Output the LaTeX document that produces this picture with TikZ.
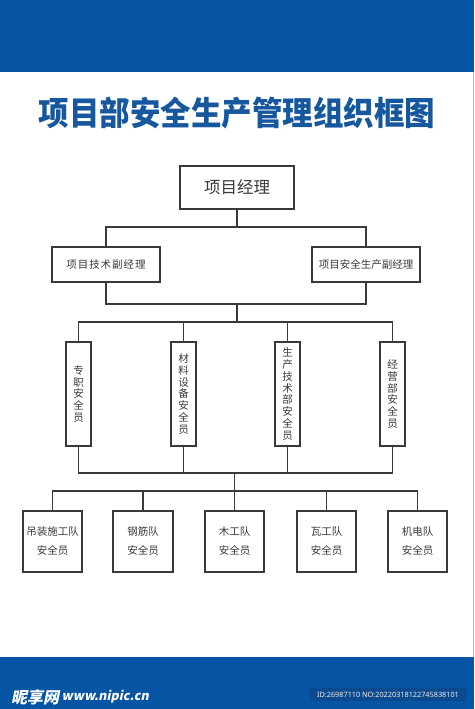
\documentclass[tikz,border=0pt]{standalone}
\usepackage{fontspec}
\newfontfamily\cjk{Noto Sans CJK SC}
\newfontfamily\wm[FakeSlant=0.2]{Noto Sans CJK SC}
\newfontfamily\idfont{Noto Sans}
\definecolor{band}{HTML}{0654A4}
\definecolor{idband}{HTML}{0B4A8E}
\definecolor{titleblue}{HTML}{16579E}
\definecolor{ln}{HTML}{3A3A3A}
\begin{document}
\begin{tikzpicture}[x=1pt,y=-1pt,
  box/.style={draw=ln, line width=1.1pt, inner sep=0pt, text=ln, align=center},
  smalltxt/.style={font=\cjk\fontsize{10.5}{19}\selectfont},
  vtxt/.style={font=\cjk\fontsize{10.5}{11.8}\selectfont},
  conn/.style={draw=ln, line width=1.1pt}]
\useasboundingbox (0,0) rectangle (474,709);
\fill[white] (0,0) rectangle (474,709);
\fill[band] (0,0) rectangle (474,72);
\fill[band] (0,657) rectangle (474,709);
\draw[gray!55, line width=1pt] (473,72) -- (473,657);
% title
\node[font=\cjk\bfseries\fontsize{30.5}{34}\selectfont, text=titleblue, inner sep=0pt] (title) at (237,113) {\scalebox{1}[1.08]{项目部安全生产管理组织框图}};
% top
\node[box, minimum width=114pt, minimum height=43pt, font=\cjk\fontsize{16.5}{18}\selectfont] (pm) at (237,187.5) {项目经理};
% deputies
\node[box, smalltxt, minimum width=108pt, minimum height=35pt] (d1) at (106,264.5) {\addfontfeature{LetterSpace=9}项目技术副经理};
\node[box, smalltxt, minimum width=108pt, minimum height=35pt] (d2) at (366,264.5) {项目安全生产副经理};
\coordinate (j1) at (237,227);
\coordinate (j2) at (237,304);
\coordinate (j3) at (237,322);
\draw[conn] (pm.south) -- (j1);
\draw[conn] (d1.north) |- (j1) -| (d2.north);
\draw[conn] (d1.south) |- (j2) -| (d2.south);
\draw[conn] (j2) -- (j3);
% vertical boxes
\node[box, vtxt, minimum width=25pt, minimum height=104pt] (s1) at (78.5,394) {专\\职\\安\\全\\员};
\node[box, vtxt, minimum width=25pt, minimum height=104pt] (s2) at (183.5,394) {材\\料\\设\\备\\安\\全\\员};
\node[box, vtxt, minimum width=25pt, minimum height=104pt] (s3) at (287.5,394) {生\\产\\技\\术\\部\\安\\全\\员};
\node[box, vtxt, minimum width=25pt, minimum height=104pt] (s4) at (392.5,394) {经\\营\\部\\安\\全\\员};
\draw[conn] (s1.north) |- (j3) -| (s4.north);
\draw[conn] (s2.north) -- (s2.north |- j3);
\draw[conn] (s3.north) -- (s3.north |- j3);
\coordinate (j4) at (234.5,473);
\coordinate (j5) at (234.5,491);
\draw[conn] (s1.south) |- (j4) -| (s4.south);
\draw[conn] (s2.south) -- (s2.south |- j4);
\draw[conn] (s3.south) -- (s3.south |- j4);
\draw[conn] (j4) -- (j5);
% bottom boxes
\node[box, smalltxt, minimum width=59pt, minimum height=61pt] (b1) at (52.5,541.5) {吊装施工队\\安全员};
\node[box, smalltxt, minimum width=60pt, minimum height=61pt] (b2) at (143,541.5) {钢筋队\\安全员};
\node[box, smalltxt, minimum width=59pt, minimum height=61pt] (b3) at (234.5,541.5) {木工队\\安全员};
\node[box, smalltxt, minimum width=59pt, minimum height=61pt] (b4) at (326.5,541.5) {瓦工队\\安全员};
\node[box, smalltxt, minimum width=59pt, minimum height=61pt] (b5) at (417.5,541.5) {机电队\\安全员};
\draw[conn] (b1.north) |- (j5) -| (b5.north);
\draw[conn] (b2.north) -- (b2.north |- j5);
\draw[conn] (b3.north) -- (j5);
\draw[conn] (b4.north) -- (b4.north |- j5);
% footer
\node[anchor=west, inner sep=0pt, text=white, font=\wm\bfseries\fontsize{16}{18}\selectfont] (logo) at (11,697) {昵享网};
\node[anchor=west, inner sep=0pt, text=white, font=\wm\bfseries\fontsize{12.5}{14}\selectfont] (url) at (logo.east) {\,www.nipic.cn};
\fill[idband] (310,688) rectangle (466,701);
\node[inner sep=0pt, text=white!85!gray, font=\idfont\fontsize{7.3}{8}\selectfont] (id) at (388,694.5) {ID:26987110 NO:20220318122745838101};
\end{tikzpicture}
\end{document}
